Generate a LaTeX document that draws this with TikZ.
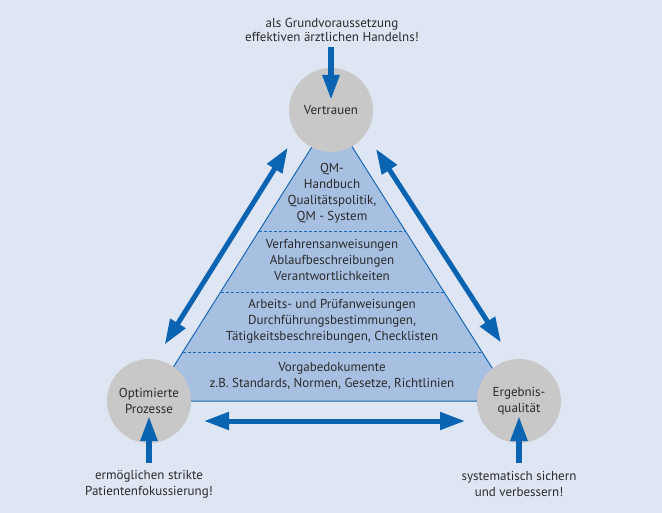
\documentclass[tikz,border=0pt]{standalone}
\usepackage{fontspec}
\setmainfont{PT Sans}
\usetikzlibrary{arrows.meta,calc}
\definecolor{bgc}{HTML}{DFE6F3}
\definecolor{trifill}{HTML}{A7C0E2}
\definecolor{bluec}{HTML}{0B64B2}
\definecolor{edgec}{HTML}{1A68B4}
\definecolor{circc}{HTML}{C8C8C8}
\definecolor{txt}{HTML}{2A2A2A}
\tikzset{
  circ/.style={circle, fill=circc, minimum size=84pt, inner sep=0pt, align=center, text=txt},
  lbl/.style={align=center, text=txt},
  dbl/.style={{Triangle[length=25pt,width=17pt]}-{Triangle[length=25pt,width=17pt]}, draw=bluec, fill=bluec, line width=5pt},
  sgl/.style={-{Triangle[length=25pt,width=16pt]}, draw=bluec, line width=5.5pt},
  sepline/.style={draw=edgec, dash pattern=on 3pt off 2pt, line width=0.8pt},
  triedge/.style={draw=edgec, line width=1pt, fill=trifill}
}
\begin{document}
\begin{tikzpicture}[x=1pt,y=-1pt, font=\fontsize{13}{16}\selectfont]
\fill[bgc] (0,0) rectangle (662,513);
\useasboundingbox (0,0) rectangle (662,513);
% triangle
\coordinate (A) at (332,115);
\coordinate (B) at (152,401);
\coordinate (C) at (513,401);
\path[triedge] (A) -- (B) -- (C) -- cycle;
\draw[sepline] ($(A)!0.4056!(B)$) -- ($(A)!0.4056!(C)$);
\draw[sepline] ($(A)!0.619!(B)$) -- ($(A)!0.619!(C)$);
\draw[sepline] ($(A)!0.829!(B)$) -- ($(A)!0.829!(C)$);
% section texts
\node[lbl] (s1) at (332,193) {QM-\\Handbuch\\Qualitätspolitik,\\QM - System};
\node[lbl] (s2) at (332,260) {Verfahrensanweisungen\\Ablaufbeschreibungen\\Verantwortlichkeiten};
\node[lbl] (s3) at (332,321) {Arbeits- und Prüfanweisungen\\Durchführungsbestimmungen,\\Tätigkeitsbeschreibungen, Checklisten};
\node[lbl] (s4) at (332,375.5) {Vorgabedokumente\\z.B. Standards, Normen, Gesetze, Richtlinien};
% circles
\node[circ] (v) at (331,110) {Vertrauen};
\node[circ] (o) at (149,401) {Optimierte\\Prozesse};
\node[circ] (e) at (519,401) {Ergebnis-\\qualität};
% outer texts
\node[lbl, font=\fontsize{13}{14.5}\selectfont] (tt) at (332,30) {als Grundvoraussetzung\\effektiven ärztlichen Handelns!};
\node[lbl] (tl) at (149,484) {ermöglichen strikte\\Patientenfokussierung!};
\node[lbl] (tr) at (519,484) {systematisch sichern\\und verbessern!};
% single arrows
\coordinate (vt) at (331,47);
\coordinate (ob) at (149,463);
\coordinate (eb) at (519,463);
\draw[sgl, shorten >=10pt] (vt) -- (v.center);
\draw[sgl, shorten >=15pt] (ob) -- (o.center);
\draw[sgl, shorten >=15pt] (eb) -- (e.center);
% double arrows
\draw[dbl, transform canvas={shift={(-14,-9)}}, shorten <=55pt, shorten >=56pt] (v.center) -- (o.center);
\draw[dbl, transform canvas={shift={(14,-9)}}, shorten <=57pt, shorten >=59pt] (v.center) -- (e.center);
\draw[dbl, transform canvas={shift={(0,20)}}, shorten <=55pt, shorten >=54pt] (o.center) -- (e.center);
\end{tikzpicture}
\end{document}
